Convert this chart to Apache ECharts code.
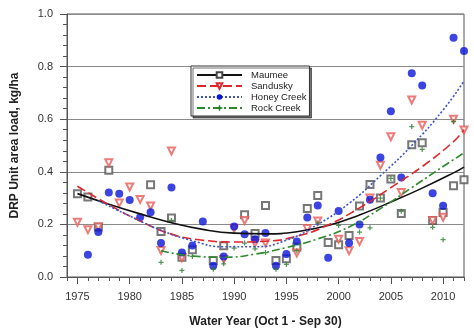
<!DOCTYPE html>
<html>
<head>
<meta charset="utf-8">
<script src="https://cdn.jsdelivr.net/npm/echarts@6/dist/echarts.min.js"></script>
<style>
  html, body { margin: 0; padding: 0; background: #fff; }
  #chart { width: 474px; height: 335px; }
</style>
</head>
<body>
<div id="chart"></div>
<script>
const years = [1975, 1976, 1977, 1978, 1979, 1980, 1981, 1982, 1983, 1984,
  1985, 1986, 1987, 1988, 1989, 1990, 1991, 1992, 1993, 1994,
  1995, 1996, 1997, 1998, 1999, 2000, 2001, 2002, 2003, 2004,
  2005, 2006, 2007, 2008, 2009, 2010, 2011, 2012]
const labelYears = [1975, 1980, 1985, 1990, 1995, 2000, 2005, 2010]

// annual loads, kg/ha (null = no marker visible)
const maumee = [0.317, 0.304, 0.19, 0.406, null, null, null, 0.351, 0.173, 0.224,
  0.075, 0.104, null, 0.063, 0.119, null, 0.237, 0.165, 0.272, 0.063,
  0.069, 0.114, 0.26, 0.31, 0.131, 0.123, 0.158, 0.27, 0.352, 0.30,
  0.373, 0.241, 0.503, 0.51, 0.215, 0.245, 0.347, 0.37]
const sandusky = [0.208, 0.18, 0.19, 0.434, 0.281, 0.342, 0.295, 0.27, 0.101, 0.479,
  0.073, null, null, null, 0.067, 0.185, 0.215, 0.129, 0.129, null,
  null, 0.091, 0.184, 0.213, null, 0.144, 0.1, 0.135, 0.30, 0.425,
  0.533, 0.321, 0.673, 0.577, 0.215, 0.227, 0.60, 0.559]
const honeyCreek = [null, 0.085, 0.171, 0.321, 0.317, 0.293, 0.227, 0.246, 0.129, 0.34,
  0.093, 0.12, 0.211, 0.043, 0.078, 0.192, 0.163, 0.144, 0.167, 0.043,
  0.087, 0.135, 0.226, 0.272, 0.073, 0.251, 0.129, 0.2, 0.294, 0.454,
  0.63, 0.378, 0.775, 0.728, 0.318, 0.271, 0.91, 0.859]
const rockCreek = [null, null, null, null, null, null, null, null, 0.056, 0.215,
  0.025, 0.078, null, 0.029, 0.05, 0.11, 0.129, 0.107, 0.093, 0.029,
  0.048, 0.1, null, 0.205, null, 0.196, null, 0.171, 0.187, 0.30,
  0.375, 0.25, 0.572, 0.485, 0.189, 0.142, 0.591, null]

// fitted trend curves
const fitYears = [1975, 1978, 1981, 1984, 1987, 1990, 1993, 1996, 1999, 2002, 2005, 2008, 2011, 2012]
const maumeeFit = [0.317, 0.277, 0.24, 0.206, 0.181, 0.167, 0.164, 0.172, 0.196, 0.236, 0.285, 0.338, 0.396, 0.418]
const sanduskyFit = [0.345, 0.275, 0.213, 0.163, 0.14, 0.133, 0.136, 0.155, 0.198, 0.263, 0.34, 0.42, 0.515, 0.56]
const honeyFitYears = [1977, 1980, 1983, 1986, 1989, 1992, 1995, 1998, 2001, 2004, 2007, 2010, 2012]
const honeyFit = [0.29, 0.232, 0.178, 0.138, 0.115, 0.115, 0.14, 0.2, 0.28, 0.385, 0.5, 0.635, 0.745]
const rockFitYears = [1983, 1986, 1989, 1992, 1995, 1998, 2001, 2004, 2007, 2010, 2012]
const rockFit = [0.10, 0.08, 0.075, 0.087, 0.112, 0.145, 0.19, 0.26, 0.34, 0.42, 0.472]

const FONT = 'Liberation Sans, Arial, sans-serif'
const PLUS = 'path://M3,0h2v3h3v2h-3v3h-2v-3h-3v-2h3z'

function pairs(xs, vs) {
  return xs.map((x, i) => [x, vs[i]]).filter((d) => d[1] != null)
}

function fitLine(name, xs, vs, color, type, symbol, symbolColor, rotate) {
  return {
    name,
    type: 'line',
    data: pairs(xs, vs),
    smooth: true,
    showSymbol: false,
    symbol,
    symbolRotate: rotate || 0,
    lineStyle: { color, width: 1.6, type },
    itemStyle: { color: symbolColor },
    z: 3,
  }
}

function points(name, vs, symbol, size, color, rotate) {
  return {
    name,
    type: 'scatter',
    data: pairs(years, vs),
    symbol,
    symbolSize: size,
    symbolRotate: rotate || 0,
    itemStyle: { color, borderWidth: 1 },
    z: 2,
  }
}

const chart = echarts.init(document.getElementById('chart'))
chart.setOption({
  animation: false,
  backgroundColor: '#fff',
  textStyle: { fontFamily: FONT },
  grid: {
    left: 67, right: 10, top: 14, bottom: 58,
    show: true, borderColor: '#555', borderWidth: 1,
  },
  legend: {
    data: ['Maumee', 'Sandusky', 'Honey Creek', 'Rock Creek'],
    orient: 'vertical',
    left: 191,
    top: 66,
    itemWidth: 45,
    itemHeight: 7,
    itemGap: 1,
    padding: [4, 3, 3, 5],
    backgroundColor: '#fff',
    borderColor: '#333',
    borderWidth: 1,
    shadowColor: 'rgba(0,0,0,0.55)',
    shadowOffsetX: 2,
    shadowOffsetY: 2,
    textStyle: { fontSize: 9.5, color: '#222', fontFamily: FONT, lineHeight: 7, padding: [0, 0, 0, 4] },
  },
  xAxis: [
    {
      type: 'value',
      min: 1974,
      max: 2012,
      position: 'bottom',
      axisLine: { lineStyle: { color: '#555' } },
      axisTick: { show: true, customValues: labelYears, length: 7, lineStyle: { color: '#555' } },
      axisLabel: { customValues: labelYears, formatter: (v) => String(v), margin: 14, fontSize: 11, color: '#333', fontFamily: FONT },
      splitLine: { show: false },
      name: 'Water Year (Oct 1 - Sep 30)',
      nameLocation: 'middle',
      nameGap: 39,
      nameTextStyle: { fontWeight: 'bold', fontSize: 12, color: '#222', fontFamily: FONT },
    },
    {
      type: 'value',
      min: 1974,
      max: 2012,
      interval: 1,
      position: 'bottom',
      axisLine: { show: false },
      axisTick: { show: true, length: 4, lineStyle: { color: '#555' } },
      axisLabel: { show: false },
      splitLine: { show: false },
    },
  ],
  yAxis: {
    type: 'value',
    min: 0,
    max: 1,
    interval: 0.2,
    axisLine: { show: true, lineStyle: { color: '#555' } },
    axisTick: { show: true, length: 7, lineStyle: { color: '#555' } },
    minorTick: { show: true, splitNumber: 5, length: 4, lineStyle: { color: '#555' } },
    axisLabel: { formatter: (v) => v.toFixed(1), margin: 14, fontSize: 11, color: '#333', fontFamily: FONT },
    splitLine: { show: true, lineStyle: { color: '#8a8a8a', width: 1 } },
    name: 'DRP Unit area load, kg/ha',
    nameLocation: 'middle',
    nameGap: 46,
    nameTextStyle: { fontWeight: 'bold', fontSize: 12, color: '#222', fontFamily: FONT },
  },
  series: [
    fitLine('Maumee', fitYears, maumeeFit, '#111', 'solid', 'emptyRect', '#444'),
    fitLine('Sandusky', fitYears, sanduskyFit, '#e0262a', [9, 4], 'emptyTriangle', '#e0262a', 180),
    fitLine('Honey Creek', honeyFitYears, honeyFit, '#3f54c8', [2, 2], 'circle', '#0a14d8'),
    fitLine('Rock Creek', rockFitYears, rockFit, '#2b8a2b', [8, 3, 2, 3], PLUS, '#2b7a2b'),
    points('Maumee', maumee, 'emptyRect', 7, '#555'),
    points('Sandusky', sandusky, 'emptyTriangle', 7, '#e85a56', 180),
    points('Honey Creek', honeyCreek, 'circle', 8, '#0a14d8'),
    points('Rock Creek', rockCreek, PLUS, 5, '#2b7a2b'),
  ],
})
</script>
</body>
</html>
